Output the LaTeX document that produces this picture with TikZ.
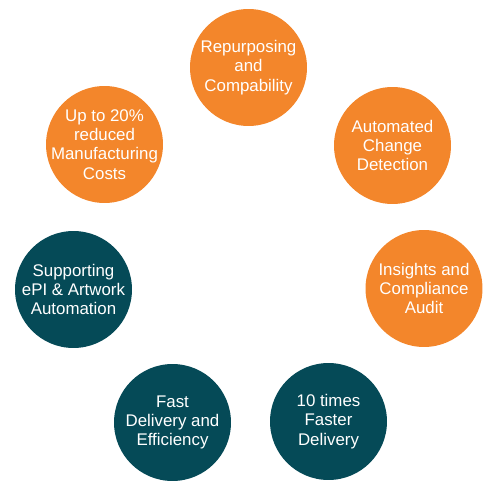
\documentclass[tikz,border=0pt]{standalone}
\usepackage{fontspec}
\setsansfont{Liberation Sans}
\usepackage{tikz}

\definecolor{benefitorange}{HTML}{F3862B}
\definecolor{benefitteal}{HTML}{054A57}

\begin{document}
\begin{tikzpicture}[x=0.02cm,y=-0.02cm,
  main node/.style={circle,fill=benefitorange,minimum size=2.34cm,inner sep=-10pt,
    text=white,align=center,font=\sffamily\fontsize{9.6}{10.9}\selectfont},
  dark node/.style={main node,fill=benefitteal}]
  \useasboundingbox (0,0) rectangle (500,497);
  \node[main node] (1) at (248.5,67.5) {Repurposing\\and\\Compability};
  \node[main node] (2) at (392.5,145.5) {Automated\\Change\\Detection};
  \node[main node] (3) at (424,288.5) {Insights and\\Compliance\\Audit};
  \node[dark node] (4) at (328.5,421.5) {10 times\\Faster\\Delivery};
  \node[dark node] (5) at (172.5,422.5) {Fast\\Delivery and\\Efficiency};
  \node[dark node] (6) at (73.5,289.5) {Supporting\\ePI \& Artwork\\Automation};
  \node[main node] (7) at (104.5,144.5) {Up to 20\%\\reduced\\Manufacturing\\Costs};
\end{tikzpicture}
\end{document}
